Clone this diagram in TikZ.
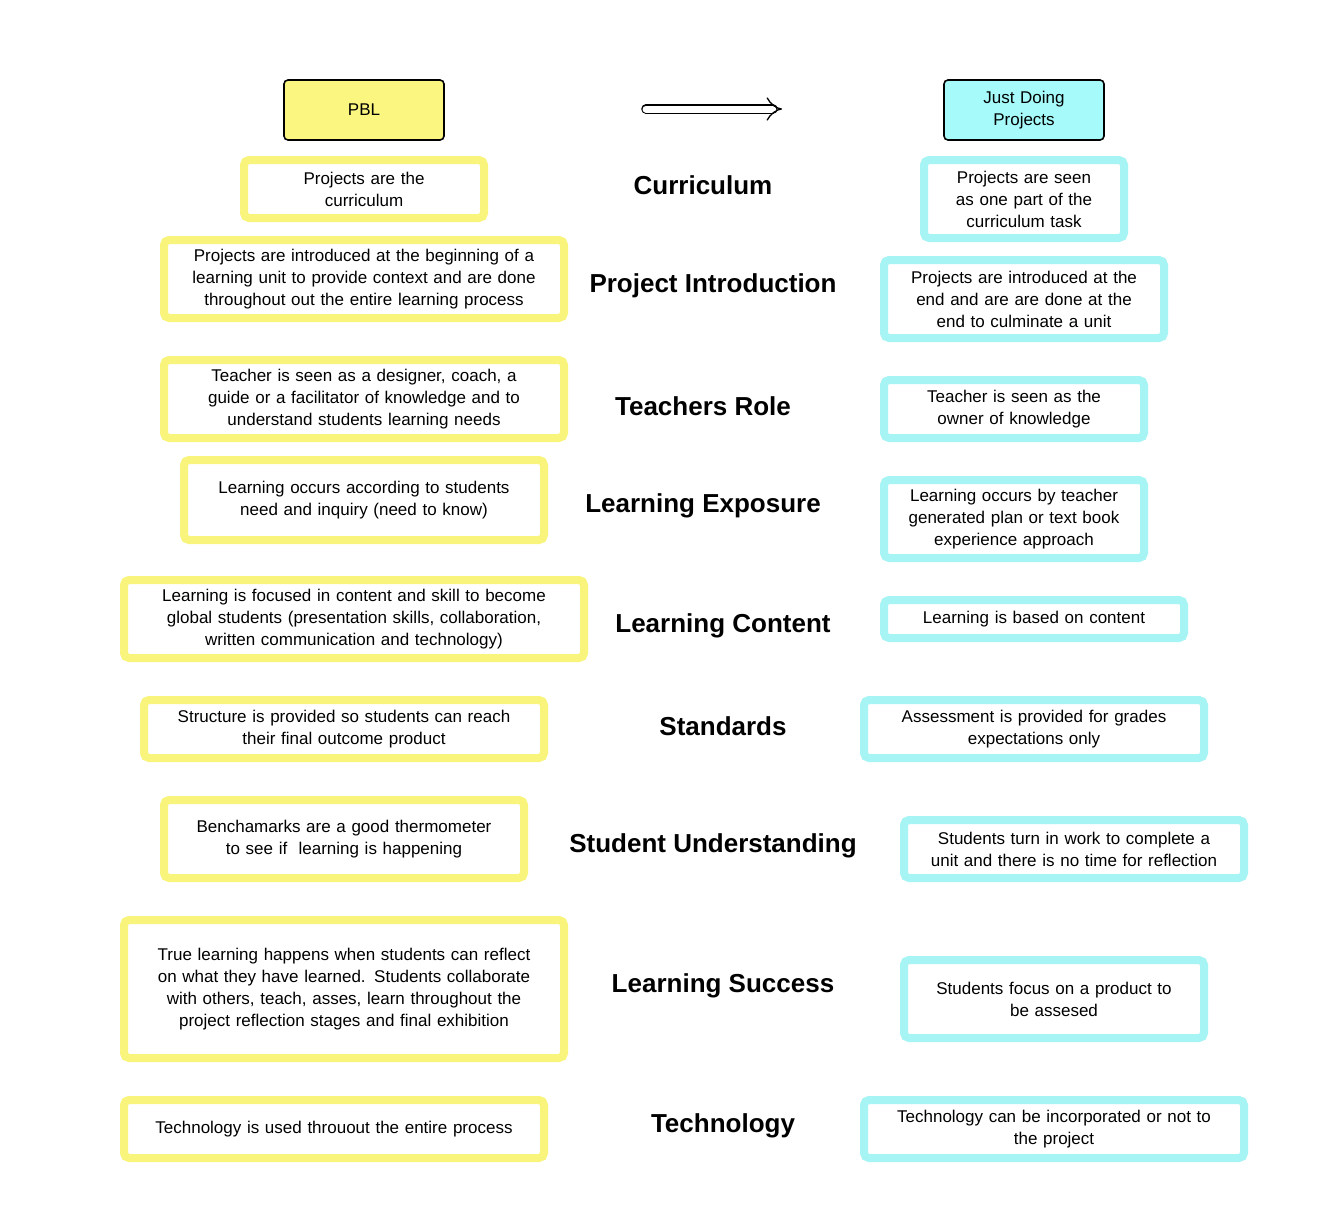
\documentclass[tikz,border=0pt]{standalone}
\usepackage{fontspec}
\setmainfont{Liberation Sans}
\usetikzlibrary{arrows.meta}
\definecolor{yb}{HTML}{F8F47C}
\definecolor{cb}{HTML}{A6F4F4}
\definecolor{yf}{HTML}{FAF680}
\definecolor{cf}{HTML}{A6FAFA}
\tikzset{
 ybox/.style={draw=yb,line width=8pt,fill=white,rounded corners=5pt,align=center,font=\fontsize{17}{22}\selectfont,inner sep=0pt},
 cbox/.style={ybox,draw=cb},
 hdr/.style={draw=black,line width=1.6pt,rounded corners=4pt,align=center,font=\fontsize{17}{22}\selectfont,inner sep=0pt},
 lab/.style={font=\fontsize{26}{30}\selectfont\bfseries}
}
\newcommand{\bx}[7]{% style,name,x1,y1,x2,y2,text
 \node[#1,minimum width={#5-#3-8},minimum height={#6-#4-8},text width={#5-#3-30}] (#2) at ({(#3+#5)/2},{(#4+#6)/2}) {#7};}
\begin{document}
\begin{tikzpicture}[x=1pt,y=-1pt]
\useasboundingbox[fill=white] (0,0) rectangle (1324,1208);
\node[hdr,fill=yf,minimum width=160,minimum height=60,text width=140] (pbl) at (364,110) {PBL};
\node[hdr,fill=cf,minimum width=160,minimum height=60,text width=140] (jdp) at (1024,110) {Just Doing\\Projects};
\coordinate (aL) at (646,109); \coordinate (aR) at (782,109);
\draw[double distance=7pt,line width=1.3pt,-{Implies},line cap=round] (aL) -- (aR);
\bx{ybox}{l1}{240}{156}{488}{222}{Projects are the\\curriculum}
\bx{ybox}{l2}{160}{236}{568}{322}{Projects are introduced at the beginning of a learning unit to provide context and are done throughout out the entire learning process}
\bx{ybox}{l3}{160}{356}{568}{442}{Teacher is seen as a designer, coach, a\\guide or a facilitator of knowledge and to\\understand students learning needs}
\bx{ybox}{l4}{180}{456}{548}{544}{Learning occurs according to students\\need and inquiry (need to know)}
\bx{ybox}{l5}{120}{576}{588}{662}{Learning is focused in content and skill to become\\global students (presentation skills, collaboration,\\written communication and technology)}
\bx{ybox}{l6}{140}{696}{548}{762}{Structure is provided so students can reach\\their final outcome product}
\bx{ybox}{l7}{160}{796}{528}{882}{Benchamarks are a good thermometer\\to see if \ learning is happening}
\bx{ybox}{l8}{120}{916}{568}{1062}{True learning happens when students can reflect\\on what they have learned. Students collaborate\\with others, teach, asses, learn throughout the\\project reflection stages and final exhibition}
\bx{ybox}{l9}{120}{1096}{548}{1162}{Technology is used throuout the entire process}
\bx{cbox}{r1}{920}{156}{1128}{242}{Projects are seen\\as one part of the\\curriculum task}
\bx{cbox}{r2}{880}{256}{1168}{342}{Projects are introduced at the\\end and are are done at the\\end to culminate a unit}
\bx{cbox}{r3}{880}{376}{1148}{442}{Teacher is seen as the\\owner of knowledge}
\bx{cbox}{r4}{880}{476}{1148}{562}{Learning occurs by teacher\\generated plan or text book\\experience approach}
\bx{cbox}{r5}{880}{596}{1188}{642}{Learning is based on content}
\bx{cbox}{r6}{860}{696}{1208}{762}{Assessment is provided for grades\\expectations only}
\bx{cbox}{r7}{900}{816}{1248}{882}{Students turn in work to complete a\\unit and there is no time for reflection}
\bx{cbox}{r8}{900}{956}{1208}{1042}{Students focus on a product to\\be assesed}
\bx{cbox}{r9}{860}{1096}{1248}{1162}{Technology can be incorporated or not to\\the project}
\node[lab] (c1) at (703,185) {Curriculum};
\node[lab] (c2) at (713,286) {Project Introduction};
\node[lab] (c3) at (703,406) {Teachers Role};
\node[lab] (c4) at (703,506) {Learning Exposure};
\node[lab] (c5) at (723,626) {Learning Content};
\node[lab] (c6) at (723,726) {Standards};
\node[lab] (c7) at (713,846) {Student Understanding};
\node[lab] (c8) at (723,986) {Learning Success};
\node[lab] (c9) at (723,1126) {Technology};
\end{tikzpicture}
\end{document}
